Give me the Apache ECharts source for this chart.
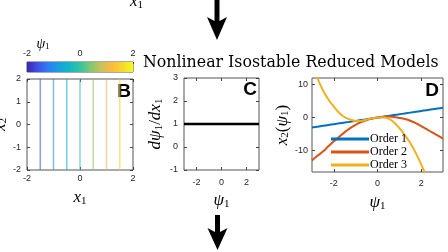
<!DOCTYPE html>
<html>
<head>
<meta charset="utf-8">
<script src="https://cdn.jsdelivr.net/npm/echarts@6/dist/echarts.min.js"></script>
<style>
html, body { margin: 0; padding: 0; background: #fff; }
#chart { width: 448px; height: 252px; }
</style>
</head>
<body>
<div id="chart"></div>
<script>
// panel B: isostables of the linear model, coloured by psi1
var psiRange = [-2, 2];
var x2Range = [-2, 2];
var isoX = [-1.5, -1, -0.5, 0, 0.5, 1, 1.5];

// panel C: derivative of psi1
var psiC = [-3, 3];
var dpsiC = [1, 1];

// panel D: reduced models of increasing order
var psiD = [-3, -2.75, -2.5, -2.25, -2, -1.75, -1.5, -1.25, -1, -0.75, -0.5, -0.25, 0,
            0.25, 0.5, 0.75, 1, 1.25, 1.5, 1.75, 2, 2.25, 2.5, 2.75, 3];
var order1 = [-3, -2.75, -2.5, -2.25, -2, -1.75, -1.5, -1.25, -1, -0.75, -0.5, -0.25, 0,
              0.25, 0.5, 0.75, 1, 1.25, 1.5, 1.75, 2, 2.25, 2.5, 2.75, 3];
var order2 = [-13, -11.6, -10.3, -8.7, -7.2, -5.8, -4.4, -3.2, -2.2, -1.4, -0.75, -0.3, 0,
              0.2, 0.3, 0.2, -0.1, -0.45, -0.95, -1.7, -2.6, -3.5, -4.5, -5.4, -6.4];
var order3 = [17, 12, 8.3, 5.5, 3.3, 1.4, 0.1, -0.6, -1, -1, -0.6, -0.2, 0,
              0, -0.3, -1.4, -3.2, -5.3, -7.7, -10.7, -14.2, -18, -22.5, -27, -32];
var orderNames = ['Order 1', 'Order 2', 'Order 3'];

var parula = ['#3e26a8', '#4150e8', '#2c7ef5', '#1aa0e0', '#10b8c8', '#35c3a0',
              '#80c872', '#c9c25c', '#fbba3e', '#f4d82e', '#f9fb15'];

var tickFont = { fontFamily: 'Liberation Sans', fontSize: 9, color: '#262626' };
var tickLine = { color: '#444' };
var mathRich = {
    i: { fontFamily: 'Liberation Serif', fontStyle: 'italic', fontSize: 17, lineHeight: 18, color: '#000' },
    r: { fontFamily: 'Liberation Serif', fontSize: 17, lineHeight: 18, color: '#000' },
    s: { fontFamily: 'Liberation Serif', fontSize: 11, lineHeight: 10, verticalAlign: 'bottom', color: '#000' }
};

function boxGrid(left, top, width, height) {
    return {
        left: left, top: top, width: width, height: height,
        show: true, borderColor: '#555', borderWidth: 1, backgroundColor: '#fff',
        outerBoundsMode: 'none', containLabel: false
    };
}
function valAxis(grid, min, max, ticks, extra) {
    var ax = {
        type: 'value', gridIndex: grid, min: min, max: max,
        axisLine: { show: false, onZero: false },
        axisTick: { show: true, inside: true, length: 3, customValues: ticks, lineStyle: tickLine },
        axisLabel: Object.assign({ margin: 5, customValues: ticks }, tickFont),
        splitLine: { show: false }
    };
    return Object.assign(ax, extra || {});
}
// mirror axis: ticks only, on the opposite side of the box
function mirrorAxis(grid, min, max, ticks, pos) {
    return valAxis(grid, min, max, ticks, { position: pos, axisLabel: { show: false } });
}

var chart = echarts.init(document.getElementById('chart'), null, { renderer: 'canvas' });

var gradStops = parula.map(function (c, k) { return { offset: k / (parula.length - 1), color: c }; });

var option = {
    animation: false,
    backgroundColor: '#fff',
    grid: [
        boxGrid(27, 62, 106, 10),   // colour bar
        boxGrid(27, 79, 106, 91),   // B
        boxGrid(184, 78, 75, 92),   // C
        boxGrid(312, 78, 131, 94)   // D
    ],
    xAxis: [
        valAxis(0, psiRange[0], psiRange[1], [-2, 0, 2], {
            position: 'top',
            axisTick: { show: true, inside: true, length: 2, customValues: [-2, 0, 2], lineStyle: tickLine },
            axisLabel: Object.assign({ margin: 4, customValues: [-2, 0, 2] }, tickFont)
        }),
        valAxis(1, x2Range[0], x2Range[1], [-2, 0, 2], {
            axisLabel: Object.assign({ margin: 4, customValues: [-2, 0, 2] }, tickFont),
            name: '{i|x}{s|1}', nameLocation: 'middle', nameGap: 19, nameTextStyle: { rich: mathRich }
        }),
        valAxis(2, -3, 3, [-2, 0, 2], {
            axisLabel: Object.assign({ margin: 8, customValues: [-2, 0, 2] }, tickFont),
            name: '{i|ψ}{s|1}', nameLocation: 'middle', nameGap: 22, nameTextStyle: { rich: mathRich }
        }),
        valAxis(3, -3, 3, [-2, 0, 2], {
            axisLabel: Object.assign({ margin: 7, customValues: [-2, 0, 2] }, tickFont),
            name: '{i|ψ}{s|1}', nameLocation: 'middle', nameGap: 22, nameTextStyle: { rich: mathRich }
        }),
        mirrorAxis(1, x2Range[0], x2Range[1], [-2, 0, 2], 'top'),
        mirrorAxis(2, -3, 3, [-2, 0, 2], 'top'),
        mirrorAxis(3, -3, 3, [-2, 0, 2], 'top')
    ],
    yAxis: [
        valAxis(0, 0, 1, [0, 1], { show: false }),
        valAxis(1, x2Range[0], x2Range[1], [-2, -1, 0, 1, 2], {
            axisLabel: Object.assign({ margin: 6, customValues: [-2, -1, 0, 1, 2] }, tickFont),
            name: '{i|x}{s|2}', nameLocation: 'middle', nameGap: 14, nameTextStyle: { rich: mathRich }
        }),
        valAxis(2, -1, 3, [-1, 0, 1, 2, 3], {
            axisLabel: Object.assign({ margin: 6, customValues: [-1, 0, 1, 2, 3] }, tickFont),
            name: '{i|dψ}{s|1}{r|/}{i|dx}{s|1}', nameLocation: 'middle', nameGap: 19, nameTextStyle: { rich: mathRich }
        }),
        valAxis(3, -16.5, 12, [-10, 0, 10], {
            axisLabel: Object.assign({ margin: 4, customValues: [-10, 0, 10] }, tickFont),
            name: '{i|x}{s|2}{r|(}{i|ψ}{s|1}{r|)}', nameLocation: 'middle', nameGap: 16, nameTextStyle: { rich: mathRich }
        }),
        mirrorAxis(1, x2Range[0], x2Range[1], [-2, -1, 0, 1, 2], 'right'),
        mirrorAxis(2, -1, 3, [-1, 0, 1, 2, 3], 'right'),
        mirrorAxis(3, -16.5, 12, [-10, 0, 10], 'right')
    ],
    visualMap: [{
        show: false, type: 'continuous', min: psiRange[0], max: psiRange[1],
        dimension: 0, seriesIndex: 1, inRange: { color: parula }
    }],
    legend: {
        orient: 'vertical', left: 326, top: 128,
        icon: 'rect', itemWidth: 38, itemHeight: 3, itemGap: 1,
        data: orderNames,
        textStyle: { fontFamily: 'Liberation Serif', fontSize: 12, color: '#000', padding: [0, 0, 0, -4] }
    },
    series: [
        {   // colour bar
            type: 'custom', xAxisIndex: 0, yAxisIndex: 0, silent: true,
            data: [[psiRange[0], psiRange[1]]],
            renderItem: function (params, api) {
                var p0 = api.coord([api.value(0), 1]);
                var p1 = api.coord([api.value(1), 0]);
                return {
                    type: 'rect',
                    shape: { x: p0[0], y: p0[1], width: p1[0] - p0[0], height: p1[1] - p0[1] },
                    style: { fill: new echarts.graphic.LinearGradient(0, 0, 1, 0, gradStops) }
                };
            }
        },
        {   // isostable lines
            type: 'custom', xAxisIndex: 1, yAxisIndex: 1, silent: true,
            data: isoX.map(function (x) { return [x, x2Range[0], x2Range[1]]; }),
            renderItem: function (params, api) {
                var p0 = api.coord([api.value(0), api.value(1)]);
                var p1 = api.coord([api.value(0), api.value(2)]);
                return {
                    type: 'line',
                    shape: { x1: p0[0], y1: p0[1], x2: p1[0], y2: p1[1] },
                    style: { stroke: api.visual('color'), lineWidth: 1.5, opacity: 0.6 }
                };
            }
        },
        {
            type: 'line', xAxisIndex: 2, yAxisIndex: 2, symbol: 'none',
            data: psiC.map(function (p, k) { return [p, dpsiC[k]]; }),
            lineStyle: { color: '#000', width: 2.5 }
        },
        {
            name: orderNames[0], type: 'line', xAxisIndex: 3, yAxisIndex: 3, symbol: 'none', smooth: 0.3,
            data: psiD.map(function (p, k) { return [p, order1[k]]; }),
            itemStyle: { color: '#0072BD' }, lineStyle: { color: '#0072BD', width: 2 }
        },
        {
            name: orderNames[1], type: 'line', xAxisIndex: 3, yAxisIndex: 3, symbol: 'none', smooth: 0.3,
            data: psiD.map(function (p, k) { return [p, order2[k]]; }),
            itemStyle: { color: '#D95319' }, lineStyle: { color: '#D95319', width: 2 }
        },
        {
            name: orderNames[2], type: 'line', xAxisIndex: 3, yAxisIndex: 3, symbol: 'none', smooth: 0.3,
            data: psiD.map(function (p, k) { return [p, order3[k]]; }),
            itemStyle: { color: '#EDB120' }, lineStyle: { color: '#EDB120', width: 2 }
        }
    ],
    graphic: [
        // arrows between figure rows
        { type: 'rect', shape: { x: 214.5, y: 0, width: 5, height: 21 }, style: { fill: '#000' } },
        { type: 'polygon', shape: { points: [[207, 17], [214.5, 21], [219.5, 21], [227, 17], [217, 40]] }, style: { fill: '#000' } },
        { type: 'rect', shape: { x: 215, y: 215, width: 5, height: 17 }, style: { fill: '#000' } },
        { type: 'polygon', shape: { points: [[207.5, 228], [215, 232], [220, 232], [227.5, 228], [217.5, 250]] }, style: { fill: '#000' } },
        // clipped label from the row above
        { type: 'text', x: 130, y: -7, style: { text: '{i|x}{s|1}', rich: mathRich } },
        { type: 'text', x: 143, y: 63, style: { text: 'Nonlinear Isostable Reduced Models', font: '15.8px "DejaVu Serif"', fill: '#000', verticalAlign: 'middle' } },
        { type: 'text', x: 43, y: 44, style: { text: '{i|ψ}{s|1}', rich: {
            i: { fontFamily: 'Liberation Serif', fontStyle: 'italic', fontSize: 14, lineHeight: 15, color: '#000' },
            s: { fontFamily: 'Liberation Serif', fontSize: 9, lineHeight: 8, verticalAlign: 'bottom', color: '#000' }
        }, align: 'center', verticalAlign: 'middle' } },
        { type: 'text', x: 131, y: 82, style: { text: 'B', font: 'bold 19px "Liberation Sans"', fill: '#000', align: 'right' } },
        { type: 'text', x: 257, y: 80, style: { text: 'C', font: 'bold 19px "Liberation Sans"', fill: '#000', align: 'right' } },
        { type: 'text', x: 439, y: 81, style: { text: 'D', font: 'bold 19px "Liberation Sans"', fill: '#000', align: 'right' } }
    ]
};

chart.setOption(option);
</script>
</body>
</html>
